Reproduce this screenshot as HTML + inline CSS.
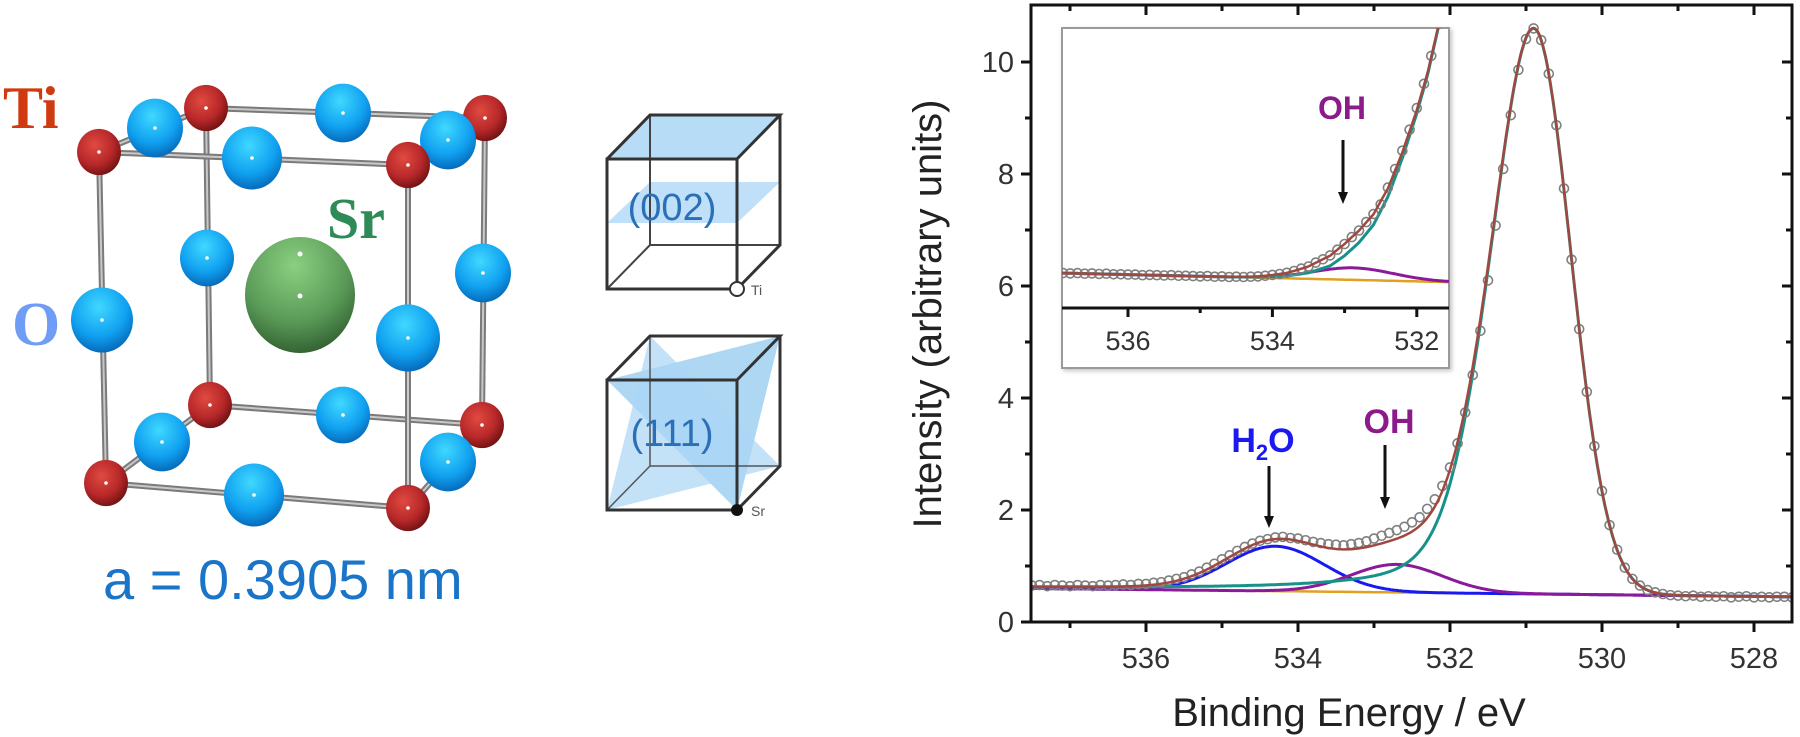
<!DOCTYPE html>
<html><head><meta charset="utf-8"><style>
html,body{margin:0;padding:0;background:#fff;}
svg{display:block;font-family:"Liberation Sans",sans-serif;}
</style></head><body>
<svg id="fig" width="1800" height="737" viewBox="0 0 1800 737" xmlns="http://www.w3.org/2000/svg">
<defs>
<radialGradient id="gRed" cx="0.4" cy="0.35" r="0.7"><stop offset="0" stop-color="#e04a40"/><stop offset="0.6" stop-color="#b8282a"/><stop offset="1" stop-color="#6a1010"/></radialGradient>
<radialGradient id="gBlue" cx="0.45" cy="0.3" r="0.75"><stop offset="0" stop-color="#40d8ff"/><stop offset="0.6" stop-color="#10a0f0"/><stop offset="1" stop-color="#0560b0"/></radialGradient>
<radialGradient id="gGreen" cx="0.45" cy="0.25" r="0.8"><stop offset="0" stop-color="#8ad080"/><stop offset="0.6" stop-color="#5a9a58"/><stop offset="1" stop-color="#2d5a2c"/></radialGradient>
<clipPath id="mainClip"><rect x="1031" y="5" width="761" height="617"/></clipPath>
<clipPath id="insetClip"><rect x="1062" y="28" width="387" height="280"/></clipPath>
<filter id="shadow" x="-5%" y="-5%" width="115%" height="115%"><feDropShadow dx="2" dy="2" stdDeviation="2" flood-color="#888" flood-opacity="0.5"/></filter>
</defs>

<g id="crystal"></g>
<text x="3" y="128" font-family="Liberation Serif,serif" font-weight="bold" font-size="60" fill="#d03a10">Ti</text>
<text x="12" y="345" font-family="Liberation Serif,serif" font-weight="bold" font-size="62" fill="#6f9cf5">O</text>
<text x="327" y="238" font-family="Liberation Serif,serif" font-weight="bold" font-size="58" fill="#2e8b57">Sr</text>
<text x="103" y="599" font-size="56" fill="#1a75c9">a = 0.3905 nm</text>

<g>
<polygon points="607,159 650,115 780,115 737,159" fill="#a9d6f5" opacity="0.85"/>
<polygon points="607,223 650,182 780,182 737,223" fill="#a9d6f5" opacity="0.75"/>
<polyline points="650,115 650,245 780,245" fill="none" stroke="#444" stroke-width="2"/>
<line x1="650" y1="245" x2="607" y2="289" stroke="#444" stroke-width="2"/>
<polygon points="607,159 737,159 737,289 607,289" fill="none" stroke="#333" stroke-width="3"/>
<polyline points="607,159 650,115 780,115 737,159" fill="none" stroke="#333" stroke-width="3"/>
<polyline points="780,115 780,245 737,289" fill="none" stroke="#333" stroke-width="3"/>
<text x="672" y="220" text-anchor="middle" font-size="38" fill="#2a6fb8">(002)</text>
<circle cx="737" cy="289" r="7" fill="#fff" stroke="#333" stroke-width="2"/>
<text x="751" y="295" font-size="14" fill="#555">Ti</text>
</g>
<g>
<polygon points="607,380 780,336 737,510" fill="#8cc6ee" opacity="0.7"/>
<polygon points="650,336 780,466 607,510" fill="#a9d6f5" opacity="0.7"/>
<polyline points="650,336 650,466 780,466" fill="none" stroke="#555" stroke-width="1.5"/>
<line x1="650" y1="466" x2="607" y2="510" stroke="#555" stroke-width="1.5"/>
<polygon points="607,380 737,380 737,510 607,510" fill="none" stroke="#333" stroke-width="3"/>
<polyline points="607,380 650,336 780,336 737,380" fill="none" stroke="#333" stroke-width="3"/>
<polyline points="780,336 780,466 737,510" fill="none" stroke="#333" stroke-width="3"/>
<text x="672" y="446" text-anchor="middle" font-size="38" fill="#2a6fb8">(111)</text>
<circle cx="737" cy="510" r="6" fill="#111"/>
<text x="751" y="516" font-size="14" fill="#555">Sr</text>
</g>

<g id="chart"></g>
</svg>
<script>
// ---- Chart data ----
var dataStartE=537.5, dataStepE=-0.1;
var dataY=[.65,.66,.64,.66,.65,.64,.66,.65,.64,.66,
.65,.66,.67,.66,.68,.68,.70,.71,.74,.77,
.80,.85,.90,.97,1.04,1.12,1.19,1.27,1.34,1.40,
1.45,1.48,1.51,1.52,1.50,1.49,1.46,1.43,1.41,1.39,
1.38,1.37,1.39,1.41,1.44,1.49,1.54,1.59,1.64,1.70,
1.78,1.87,2.02,2.19,2.43,2.76,3.19,3.74,4.41,5.20,
6.10,7.08,8.09,9.05,9.86,10.41,10.6,10.39,9.79,8.87,
7.74,6.47,5.23,4.11,3.14,2.34,1.73,1.29,.97,.77,
.65,.57,.53,.50,.48,.47,.46,.47,.45,.46,
.45,.46,.44,.45,.46,.44,.45,.44,.45,.45,.44];
var compNames=['lattice','OH','H2O'];
var compCenters=[530.9,532.7,534.3];
var compHeights=[10.1,0.5,0.8];
var compFwhmLeft=[1.35,1.41,1.51];
var compFwhmRight=[1.15,1.41,1.51];
var compLorentzLeft=[0.3,0,0];
var compColors=['#17928a','#8b1a9b','#1a1af0'];
var bgEnds=[0.60,0.45];
var xTicks=[536,534,532,530,528];
var yTicks=[0,2,4,6,8,10];
var insetStartE=536.9, insetStepE=-0.1;
var insetY=[.73,.72,.73,.71,.72,.70,.71,.69,.69,.68,
.68,.66,.67,.66,.65,.66,.64,.64,.63,.62,
.63,.61,.62,.60,.61,.60,.61,.62,.64,.67,
.70,.74,.80,.88,.95,1.08,1.19,1.32,1.51,1.70,
1.93,2.15,2.43,2.70,3.02,3.58,4.2,4.81,5.51,6.23,
7.04,7.97,9.03];
var insetTealE=[536.9,534.6,534.2,533.8,533.5,533.2,533.0,532.8,532.6,532.4,532.2,532.0,531.85,531.7,531.56];
var insetTealV=[0,0,.02,.08,.2,.45,.8,1.25,1.85,2.8,4.1,5.6,6.9,8.5,10.2];
var insetOH=[532.88,0.40,1.3];
var insetBgEnds=[0.73,0.43];
var insetTicks=[536,534,532];

var NS='http://www.w3.org/2000/svg';
// ---- Crystal ----
var cg=document.getElementById('crystal');
function mk(tag,attrs,parent){var e=document.createElementNS(NS,tag);for(var k in attrs)e.setAttribute(k,attrs[k]);(parent||cg).appendChild(e);return e;}
var ti={TLF:[99,152],TLB:[206,108],TRB:[485,118],TRF:[408,165],BLB:[210,405],BRB:[482,425],BLF:[106,483],BRF:[408,508]};
var edges=[['TLB','TRB'],['TLB','BLB'],['TRB','BRB'],['BLB','BRB'],['TLF','TLB'],['TRF','TRB'],['BLF','BLB'],['BRF','BRB'],['TLF','TRF'],['TLF','BLF'],['TRF','BRF'],['BLF','BRF']];
edges.forEach(function(e){var a=ti[e[0]],b=ti[e[1]];
var l=mk('line',{x1:a[0],y1:a[1],x2:b[0],y2:b[1],stroke:'#7a7a7a','stroke-width':6});


mk('line',{x1:a[0],y1:a[1],x2:b[0],y2:b[1],stroke:'#c8c8c8','stroke-width':2});});
function sphere(x,y,r,grad,name){var c=mk('ellipse',{cx:x,cy:y,rx:r,ry:r*1.05,fill:'url(#'+grad+')'});


mk('circle',{cx:x,cy:y,r:1.8,fill:'#fff'});}
var backBlue=[[343,113,28],[155,128,28],[448,140,28],[207,258,27],[483,273,28],[343,415,27],[162,442,28],[448,462,28]];
var frontBlue=[[252,158,30],[102,320,31],[408,338,32],[254,495,30]];
['TLB','TRB','BLB','BRB'].forEach(function(k){sphere(ti[k][0],ti[k][1],22,'gRed','ti-atom');});
backBlue.forEach(function(b){sphere(b[0],b[1],b[2],'gBlue','o-atom');});
var sr=mk('ellipse',{cx:300,cy:295,rx:55,ry:58,fill:'url(#gGreen)'});


mk('circle',{cx:300,cy:254,r:2.5,fill:'#fff'});mk('circle',{cx:300,cy:296,r:2.5,fill:'#fff'});
frontBlue.forEach(function(b){sphere(b[0],b[1],b[2],'gBlue','o-atom');});
['TLF','TRF','BLF','BRF'].forEach(function(k){sphere(ti[k][0],ti[k][1],22,'gRed','ti-atom');});

// ---- axes ----
function X(E){return 1146+(536-E)*76;}
function Y(v){return 622-56*v;}
function XI(E){return 1128+(536-E)*72.2;}
function YI(v){return 280-(v-0.5)*30;}
function bg(E){return bgEnds[1]+(bgEnds[0]-bgEnds[1])*(E-527.5)/10;}
function comp(i,E){var d=E-compCenters[i];var w=d>0?compFwhmLeft[i]:compFwhmRight[i];var eta=d>0?compLorentzLeft[i]:0;
var G=Math.exp(-4*Math.LN2*d*d/(w*w)),L=1/(1+4*d*d/(w*w));return compHeights[i]*((1-eta)*G+eta*L);}
function ibg(E){return insetBgEnds[1]+(insetBgEnds[0]-insetBgEnds[1])*(E-531.56)/(536.9-531.56);}
function iteal(E){for(var k=0;k<insetTealE.length-1;k++){if(E<=insetTealE[k]&&E>=insetTealE[k+1]){var t=(E-insetTealE[k])/(insetTealE[k+1]-insetTealE[k]);return insetTealV[k]+t*(insetTealV[k+1]-insetTealV[k]);}}return E>insetTealE[0]?0:insetTealV[insetTealV.length-1];}
function ioh(E){var d=E-insetOH[0];return insetOH[1]*Math.exp(-4*Math.LN2*d*d/(insetOH[2]*insetOH[2]));}

var ch=document.getElementById('chart');
function el(tag,attrs,parent){var e=document.createElementNS(NS,tag);for(var k in attrs)e.setAttribute(k,attrs[k]);(parent||ch).appendChild(e);return e;}
function pathFrom(f,e0,e1,xf,yf){var s='';for(var E=e0;E>=e1-1e-9;E-=0.02){s+=(s?'L':'M')+xf(E).toFixed(1)+','+yf(f(E)).toFixed(1);}return s;}

var mg=el('g',{'clip-path':'url(#mainClip)'});
var bgl=el('path',{d:pathFrom(bg,537.6,527.4,X,Y),fill:'none',stroke:'#e0a020','stroke-width':2.5},mg);


[2,1,0].forEach(function(i){var p=el('path',{d:pathFrom(function(E){return bg(E)+comp(i,E);},537.6,527.4,X,Y),fill:'none',stroke:compColors[i],'stroke-width':3},mg);

});
dataY.forEach(function(v,i){var E=dataStartE+i*dataStepE;var c=el('circle',{cx:X(E),cy:Y(v),r:4.5,fill:'none',stroke:'#808080','stroke-width':1.6},mg);

});
var fit=el('path',{d:pathFrom(function(E){return bg(E)+comp(0,E)+comp(1,E)+comp(2,E);},537.6,527.4,X,Y),fill:'none',stroke:'#a0483f','stroke-width':2.5},mg);



var fr=el('rect',{x:1031,y:5,width:761,height:617,fill:'none',stroke:'#111','stroke-width':3});


for(var E=537;E>=528;E--){var maj=(E%2===0);var x=X(E);var len=maj?10:6;
el('line',{x1:x,y1:622,x2:x,y2:622+len,stroke:'#111','stroke-width':3});
el('line',{x1:x,y1:5,x2:x,y2:5+len,stroke:'#111','stroke-width':3});}
xTicks.forEach(function(t){var tx=el('text',{x:X(t),y:668,'text-anchor':'middle','font-size':29,fill:'#333'});tx.textContent=t;

});
for(var v=0;v<=10;v++){var maj=(v%2===0);var y=Y(v);var len=maj?10:6;
el('line',{x1:1031-len,y1:y,x2:1031,y2:y,stroke:'#111','stroke-width':3});
el('line',{x1:1792-len,y1:y,x2:1792,y2:y,stroke:'#111','stroke-width':3});}
yTicks.forEach(function(t){var ty=el('text',{x:1014,y:Y(t)+10,'text-anchor':'end','font-size':29,fill:'#333'});ty.textContent=t;

});
var xt=el('text',{x:1349,y:726,'text-anchor':'middle','font-size':40,fill:'#222'});xt.textContent='Binding Energy / eV';


var yt=el('text',{x:0,y:0,'text-anchor':'middle','font-size':40,fill:'#222',transform:'translate(941,314) rotate(-90)'});yt.textContent='Intensity (arbitrary units)';



function arrow(x,y1,y2,name,parent){var g=el('g',{},parent);


el('line',{x1:x,y1:y1,x2:x,y2:y2-10,stroke:'#111','stroke-width':3},g);
el('polygon',{points:(x-5)+','+(y2-12)+' '+(x+5)+','+(y2-12)+' '+x+','+y2,fill:'#111'},g);}
var h2o=el('text',{x:1263,y:452,'text-anchor':'middle','font-size':34,'font-weight':'bold',fill:'#1a1af0'});


var t1=el('tspan',{},h2o);t1.textContent='H';
var t2=el('tspan',{'font-size':22,dy:8},h2o);t2.textContent='2';
var t3=el('tspan',{dy:-8},h2o);t3.textContent='O';
arrow(1269,466,528,'h2o-arrow');
var oh=el('text',{x:1389,y:433,'text-anchor':'middle','font-size':34,'font-weight':'bold',fill:'#8b1a8b'});oh.textContent='OH';


arrow(1385,445,509,'oh-arrow');

// ---- inset ----
var ig=el('g',{});


el('rect',{x:1062,y:28,width:387,height:340,fill:'#fff',stroke:'#9a9a9a','stroke-width':2,filter:'url(#shadow)'},ig);
var ic=el('g',{'clip-path':'url(#insetClip)'},ig);
el('path',{d:pathFrom(ibg,537,531.5,XI,YI),fill:'none',stroke:'#e0a020','stroke-width':2.5},ic);
el('path',{d:pathFrom(function(E){return ibg(E)+ioh(E);},537,531.5,XI,YI),fill:'none',stroke:'#8b1a9b','stroke-width':3},ic);
el('path',{d:pathFrom(function(E){return ibg(E)+iteal(E);},537,531.5,XI,YI),fill:'none',stroke:'#17928a','stroke-width':3},ic);
insetY.forEach(function(v,i){var E=insetStartE+i*insetStepE;var c=el('circle',{cx:XI(E),cy:YI(v),r:4.5,fill:'none',stroke:'#808080','stroke-width':1.6},ic);

});
el('path',{d:pathFrom(function(E){return ibg(E)+iteal(E)+ioh(E);},537,531.5,XI,YI),fill:'none',stroke:'#a0483f','stroke-width':2.5},ic);
el('line',{x1:1062,y1:308,x2:1449,y2:308,stroke:'#111','stroke-width':3},ig);
for(var E2=536;E2>=532;E2--){var xx=XI(E2);el('line',{x1:xx,y1:308,x2:xx,y2:308+((E2%2===0)?9:5),stroke:'#111','stroke-width':3},ig);}
insetTicks.forEach(function(t){var tt=el('text',{x:XI(t),y:350,'text-anchor':'middle','font-size':27,fill:'#333'},ig);tt.textContent=t;

});
var ioht=el('text',{x:1342,y:119,'text-anchor':'middle','font-size':32,'font-weight':'bold',fill:'#8b1a8b'},ig);ioht.textContent='OH';


arrow(1343,140,204,'inset-oh-arrow',ig);
</script>
</body></html>
